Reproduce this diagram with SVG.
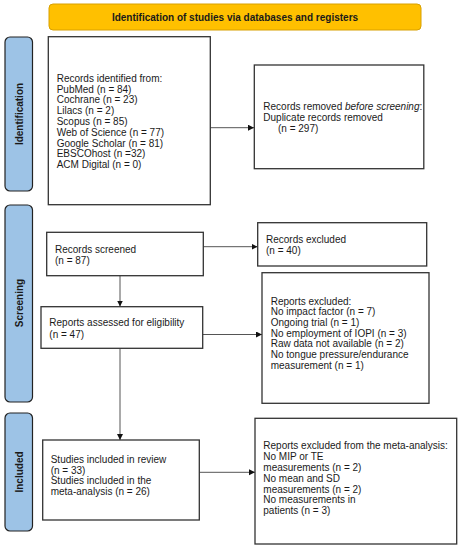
<svg xmlns="http://www.w3.org/2000/svg" width="462" height="550" viewBox="0 0 462 550">
<style>
text{font-family:"Liberation Sans",Arial,sans-serif;font-size:10px;fill:#1a1a1a}
.box{fill:#fff;stroke:#333;stroke-width:1.3}
.side{fill:#9DC3E6;stroke:#222;stroke-width:1.2}
.lbl{font-weight:bold;font-size:10px;text-anchor:middle;dominant-baseline:central}
.ln{stroke:#555;stroke-width:1;fill:none}
</style>
<defs>
<marker id="ah" markerWidth="8" markerHeight="8" refX="6" refY="3" orient="auto" markerUnits="userSpaceOnUse">
<path d="M0,0 L6,3 L0,6 Z" fill="#111"/>
</marker>
</defs>
<rect width="462" height="550" fill="#fff"/>
<g id="title">
<rect x="49" y="4" width="372" height="26" rx="4" fill="#FFC000" stroke="#D8A000" stroke-width="1"/>
<text x="235" y="17.5" text-anchor="middle" dominant-baseline="central" font-weight="bold" font-size="9.5">Identification of studies via databases and registers</text>
</g>
<g id="side-identification">
<rect class="side" x="5" y="37" width="27.5" height="154" rx="5"/>
<text class="lbl" transform="translate(19,114) rotate(-90)">Identification</text>
</g>
<g id="side-screening">
<rect class="side" x="5" y="205" width="27.5" height="197" rx="5"/>
<text class="lbl" transform="translate(19,303) rotate(-90)">Screening</text>
</g>
<g id="side-included">
<rect class="side" x="5" y="413" width="27.5" height="118" rx="5"/>
<text class="lbl" transform="translate(19,472) rotate(-90)">Included</text>
</g>
<g id="connectors">
<line class="ln" x1="210" y1="127.7" x2="254" y2="127.7" marker-end="url(#ah)"/>
<line class="ln" x1="203" y1="246.7" x2="257.5" y2="246.7" marker-end="url(#ah)"/>
<line class="ln" x1="120" y1="276" x2="120" y2="306.5" marker-end="url(#ah)"/>
<line class="ln" x1="202.5" y1="334.5" x2="262" y2="334.5" marker-end="url(#ah)"/>
<line class="ln" x1="120" y1="348.5" x2="120" y2="440" marker-end="url(#ah)"/>
<line class="ln" x1="199.5" y1="472.3" x2="255" y2="472.3" marker-end="url(#ah)"/>
</g>
<g id="records-identified">
<rect class="box" x="48.3" y="36.7" width="162" height="168"/>
<text x="56.7" y="81.8">Records identified from:</text>
<text x="56.7" y="92.6">PubMed (n = 84)</text>
<text x="56.7" y="103.4">Cochrane (n = 23)</text>
<text x="56.7" y="114.2">Lilacs (n = 2)</text>
<text x="56.7" y="125">Scopus (n = 85)</text>
<text x="56.7" y="135.8">Web of Science (n = 77)</text>
<text x="56.7" y="146.6">Google Scholar (n = 81)</text>
<text x="56.7" y="157.4">EBSCOhost (n =32)</text>
<text x="56.7" y="168.2">ACM Digital (n = 0)</text>
</g>
<g id="records-removed">
<rect class="box" x="254.3" y="65" width="169.5" height="103.7"/>
<text x="263.3" y="109.5">Records removed <tspan font-style="italic">before screening</tspan>:</text>
<text x="263.3" y="120.8">Duplicate records removed</text>
<text x="278" y="132.2">(n = 297)</text>
</g>
<g id="records-screened">
<rect class="box" x="46.7" y="232.3" width="156.6" height="43.4"/>
<text x="55" y="252.5">Records screened</text>
<text x="55" y="263.8">(n = 87)</text>
</g>
<g id="records-excluded">
<rect class="box" x="257.7" y="222.7" width="169" height="43.3"/>
<text x="266" y="242.8">Records excluded</text>
<text x="266" y="254.2">(n = 40)</text>
</g>
<g id="reports-assessed">
<rect class="box" x="41" y="306.7" width="161.7" height="41.6"/>
<text x="49.3" y="326.2">Reports assessed for eligibility</text>
<text x="49.3" y="337.5">(n = 47)</text>
</g>
<g id="reports-excluded">
<rect class="box" x="262" y="272.7" width="167" height="130.6"/>
<text x="270.7" y="304.5">Reports excluded:</text>
<text x="270.7" y="315.2">No impact factor (n = 7)</text>
<text x="270.7" y="325.9">Ongoing trial (n = 1)</text>
<text x="270.7" y="336.6">No employment of IOPI (n = 3)</text>
<text x="270.7" y="347.3">Raw data not available (n = 2)</text>
<text x="270.7" y="358">No tongue pressure/endurance</text>
<text x="270.7" y="368.7">measurement (n = 1)</text>
</g>
<g id="studies-included">
<rect class="box" x="42.7" y="440" width="156.6" height="80"/>
<text x="50.7" y="462.5">Studies included in review</text>
<text x="50.7" y="473.5">(n = 33)</text>
<text x="50.7" y="484">Studies included in the</text>
<text x="50.7" y="494.8">meta-analysis (n = 26)</text>
</g>
<g id="meta-excluded">
<rect class="box" x="255" y="418.3" width="201.7" height="125.7"/>
<text x="263.3" y="449.2">Reports excluded from the meta-analysis:</text>
<text x="263.3" y="460.2">No MIP or TE</text>
<text x="263.3" y="470.8">measurements (n = 2)</text>
<text x="263.3" y="481.5">No mean and SD</text>
<text x="263.3" y="492.5">measurements (n = 2)</text>
<text x="263.3" y="503.2">No measurements in</text>
<text x="263.3" y="514.2">patients (n = 3)</text>
</g>
</svg>
